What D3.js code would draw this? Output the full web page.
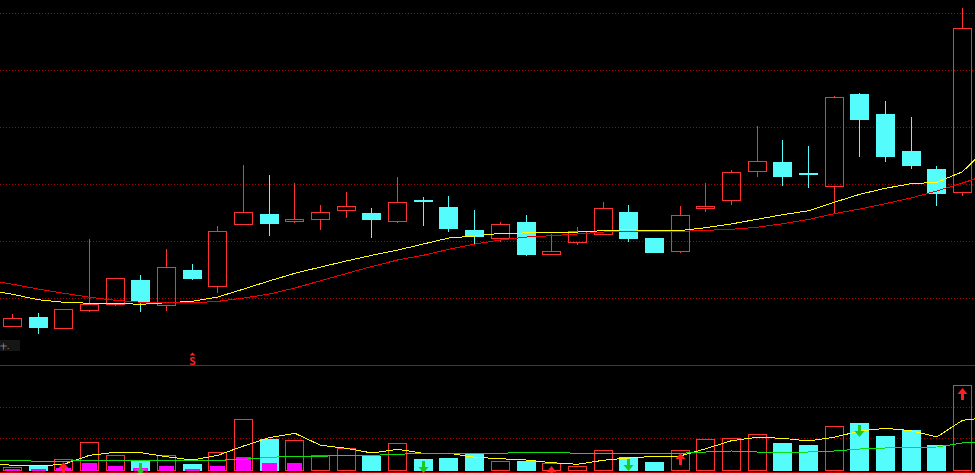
<!DOCTYPE html>
<html>
<head>
<meta charset="utf-8">
<script src="https://cdn.jsdelivr.net/npm/d3@7"></script>
<style>
html, body { margin: 0; padding: 0; background: #000; overflow: hidden; }
svg { display: block; background: #000; }
.grid { stroke: #b00000; stroke-width: 1; stroke-dasharray: 1,2; shape-rendering: crispEdges; }
.sep { stroke: #c80000; stroke-width: 1; shape-rendering: crispEdges; }
.crisp { shape-rendering: crispEdges; }
</style>
</head>
<body>
<svg width="975" height="473"></svg>
<script>
// daily bars, oldest first
var opens  = [13.26,13.34,13.24,13.40,13.45,13.66,13.44,13.75,13.61,14.15,14.24,14.18,14.20,14.28,14.25,14.18,14.36,14.30,14.10,14.03,14.17,13.89,14.00,14.07,14.26,14.03,13.92,14.29,14.36,14.62,14.70,14.60,14.49,15.29,15.12,14.79,14.64,14.43];
var highs  = [13.36,13.37,13.41,14.02,13.68,13.71,13.93,13.80,14.14,14.67,14.58,14.51,14.32,14.43,14.29,14.57,14.39,14.40,14.28,14.17,14.23,14.07,14.13,14.35,14.32,14.03,14.31,14.51,14.63,15.01,14.89,14.84,15.28,15.30,15.23,15.09,14.66,16.05];
var lows   = [13.26,13.19,13.24,13.38,13.43,13.38,13.39,13.66,13.55,14.15,14.05,14.16,14.10,14.21,14.03,14.16,14.14,14.08,13.97,14.00,13.87,13.89,13.97,14.07,14.00,13.90,13.90,14.26,14.32,14.57,14.49,14.47,14.25,14.74,14.70,14.64,14.31,14.40];
var closes = [13.33,13.24,13.41,13.45,13.68,13.47,13.78,13.67,14.09,14.26,14.15,14.20,14.26,14.31,14.19,14.35,14.35,14.11,14.04,14.15,13.88,13.92,14.09,14.29,14.02,13.90,14.23,14.31,14.61,14.71,14.57,14.58,15.27,15.07,14.74,14.66,14.42,15.87];

// price averages, one day before the first bar to one day after the last
var ma1 = [13.575,13.537,13.489,13.467,13.458,13.458,13.449,13.463,13.475,13.513,13.583,13.654,13.721,13.776,13.829,13.879,13.925,13.978,14.031,14.048,14.072,14.075,14.075,14.083,14.095,14.104,14.092,14.096,14.121,14.154,14.195,14.235,14.270,14.344,14.414,14.467,14.507,14.519,14.612,14.831];
var ma2 = [13.661,13.625,13.583,13.546,13.511,13.484,13.467,13.461,13.461,13.475,13.504,13.539,13.592,13.656,13.719,13.781,13.838,13.879,13.932,13.978,14.013,14.039,14.051,14.066,14.083,14.092,14.089,14.089,14.098,14.107,14.125,14.156,14.193,14.244,14.285,14.332,14.382,14.443,14.513,14.588];

var volumes    = [710,1452,3290,8871,4677,2839,4677,1871,5645,16290,9839,9516,4677,6935,4355,8548,3387,3710,5000,2742,2742,2097,1129,6290,4032,2419,6194,9742,10065,11355,8548,7903,13935,15000,10806,12742,7806,27161];
var bigVolumes = [161,161,581,2097,1129,581,1129,161,1129,4032,2097,2097,0,0,0,0,0,0,0,0,0,0,0,0,0,0,0,0,0,0,0,0,0,0,0,0,0,0];
var volMa1 = [2097,1355,1129,1677,4581,5549,5420,4129,3065,4581,7581,10259,11678,7807,6839,5323,6517,5226,5226,3936,3484,3065,2194,1677,2968,3710,4258,4355,6710,9291,10388,10065,9194,10388,12420,13291,12517,10485,15872,16775];
var volMa2 = [2968,2968,2645,2645,2968,2968,2968,2968,2968,2968,3290,3936,4258,4258,4581,4581,4903,5226,5226,5226,5226,5549,5549,5226,5226,5226,5226,5226,5645,5968,5645,5645,5645,5968,6613,6936,6936,7258,8549,8549];

var buyIdx = [2, 21, 26, 37];
var sellIdx = [5, 16, 24, 33];
var markIdx = [7];

var priceTicks = [13.5, 14.0, 14.5, 15.0, 15.5, 16.0];
var volTicks = [10000, 20000];

var upColor = '#ff3232', downColor = '#54fcfc';

var svg = d3.select('svg');
var width = 975, height = 473;

var x = d3.scaleLinear().domain([0, closes.length - 1]).range([12.5, 962.5]);
var y = d3.scaleLinear().domain([13.5, 16.0]).range([298.5, 13.5]);
var yVol = d3.scaleLinear().domain([0, 30000]).range([469.5, 376.5]);
var volBottom = 471;

function col(i) { return Math.floor(x(i)) + 0.5; }
function left(i) { return Math.round(x(i) - 9.5); }

// grid
svg.append('g').selectAll('line').data(priceTicks).enter().append('line')
  .attr('class', 'grid')
  .attr('x1', 0).attr('x2', width)
  .attr('y1', function(d) { return y(d); })
  .attr('y2', function(d) { return y(d); });

svg.append('g').selectAll('line').data(volTicks).enter().append('line')
  .attr('class', 'grid')
  .attr('x1', 0).attr('x2', width)
  .attr('y1', function(d) { return yVol(d); })
  .attr('y2', function(d) { return yVol(d); });

svg.append('line').attr('class', 'sep').attr('x1', 0).attr('x2', width).attr('y1', 365.5).attr('y2', 365.5);
svg.append('line').attr('class', 'sep').attr('x1', 0).attr('x2', width).attr('y1', 472.5).attr('y2', 472.5);

// candles
var bars = d3.range(closes.length).map(function(i) {
  return { i: i, o: opens[i], h: highs[i], l: lows[i], c: closes[i], v: volumes[i], bv: bigVolumes[i] };
});

var candle = svg.append('g').attr('class', 'crisp').selectAll('g').data(bars).enter().append('g');

candle.each(function(d) {
  var g = d3.select(this);
  var cx = col(d.i), lx = left(d.i);
  var up = d.c >= d.o;
  var top = Math.round(y(Math.max(d.o, d.c)));
  var bot = Math.round(y(Math.min(d.o, d.c)));
  if (up) {
    g.append('line').attr('x1', cx).attr('x2', cx).attr('y1', Math.round(y(d.h))).attr('y2', top)
      .attr('stroke', upColor);
    g.append('line').attr('x1', cx).attr('x2', cx).attr('y1', bot).attr('y2', Math.round(y(d.l)))
      .attr('stroke', upColor);
    g.append('rect').attr('x', lx + 0.5).attr('y', top + 0.5)
      .attr('width', 18).attr('height', Math.max(bot - top, 1))
      .attr('fill', 'none').attr('stroke', upColor);
  } else {
    g.append('line').attr('x1', cx).attr('x2', cx).attr('y1', Math.round(y(d.h))).attr('y2', Math.round(y(d.l)))
      .attr('stroke', downColor);
    g.append('rect').attr('x', lx).attr('y', top)
      .attr('width', 19).attr('height', Math.max(bot - top, 2))
      .attr('fill', downColor);
  }
});

// price averages
var maLine = d3.line().x(function(d, i) { return x(i - 1); });

svg.append('path').datum(ma1).attr('class', 'crisp')
  .attr('d', maLine.y(function(d) { return y(d); }))
  .attr('fill', 'none').attr('stroke', '#ffff00');
svg.append('path').datum(ma2).attr('class', 'crisp')
  .attr('d', maLine.y(function(d) { return y(d); }))
  .attr('fill', 'none').attr('stroke', '#f00000');

// volume bars
var vol = svg.append('g').attr('class', 'crisp').selectAll('g').data(bars).enter().append('g');

vol.each(function(d) {
  var g = d3.select(this);
  var lx = left(d.i);
  var top = Math.round(yVol(d.v));
  if (d.c >= d.o) {
    g.append('rect').attr('x', lx + 0.5).attr('y', top + 0.5)
      .attr('width', 18).attr('height', volBottom - 1 - top)
      .attr('fill', 'none').attr('stroke', upColor);
  } else {
    g.append('rect').attr('x', lx).attr('y', top)
      .attr('width', 19).attr('height', volBottom - top)
      .attr('fill', downColor);
  }
  if (d.bv > 0) {
    var bt = Math.round(yVol(d.bv));
    g.append('rect').attr('x', lx + 2).attr('y', bt)
      .attr('width', 15).attr('height', volBottom - bt)
      .attr('fill', '#ff00ff');
  }
});

var volLine = d3.line().x(function(d, i) { return x(i - 1); }).y(function(d) { return yVol(d); });

svg.append('path').datum(volMa1).attr('class', 'crisp')
  .attr('d', volLine).attr('fill', 'none').attr('stroke', '#ffff00');
svg.append('path').datum(volMa2).attr('class', 'crisp')
  .attr('d', volLine).attr('fill', 'none').attr('stroke', '#10e010');

// signal arrows inside the volume bars
svg.append('g').selectAll('path').data(buyIdx).enter().append('path')
  .attr('transform', function(i) { return 'translate(' + col(i) + ',' + (Math.round(yVol(volumes[i])) + 3) + ')'; })
  .attr('d', 'M0,0L5,6L1.5,6L1.5,12L-1.5,12L-1.5,6L-5,6Z')
  .attr('fill', '#ff1e1e');

svg.append('g').selectAll('path').data(sellIdx).enter().append('path')
  .attr('transform', function(i) { return 'translate(' + col(i) + ',' + (Math.round(yVol(volumes[i])) + 2) + ')'; })
  .attr('d', 'M-1.5,0L1.5,0L1.5,6L5,6L0,12L-5,6L-1.5,6Z')
  .attr('fill', '#1ec81e');

// S marker under the price panel
var mark = svg.append('g').selectAll('g').data(markIdx).enter().append('g')
  .attr('transform', function(i) { return 'translate(' + col(i) + ',0)'; });
mark.append('path').attr('d', 'M0,352.5L3,355.5L-3,355.5Z').attr('fill', '#ff2020');
mark.append('text').attr('x', 0).attr('y', 364.5)
  .attr('text-anchor', 'middle')
  .attr('font-family', 'DejaVu Sans Mono, monospace')
  .attr('font-size', 11).attr('font-weight', 'bold')
  .attr('fill', '#ff2020')
  .text('S');

// leftover tooltip corner bottom-left
svg.append('rect').attr('x', 0).attr('y', 340).attr('width', 20).attr('height', 11).attr('fill', '#161616');
svg.append('text').attr('x', 0).attr('y', 349).attr('font-family', 'DejaVu Sans')
  .attr('font-size', 7).attr('fill', '#bbbbbb').text('十.');
</script>
</body>
</html>
